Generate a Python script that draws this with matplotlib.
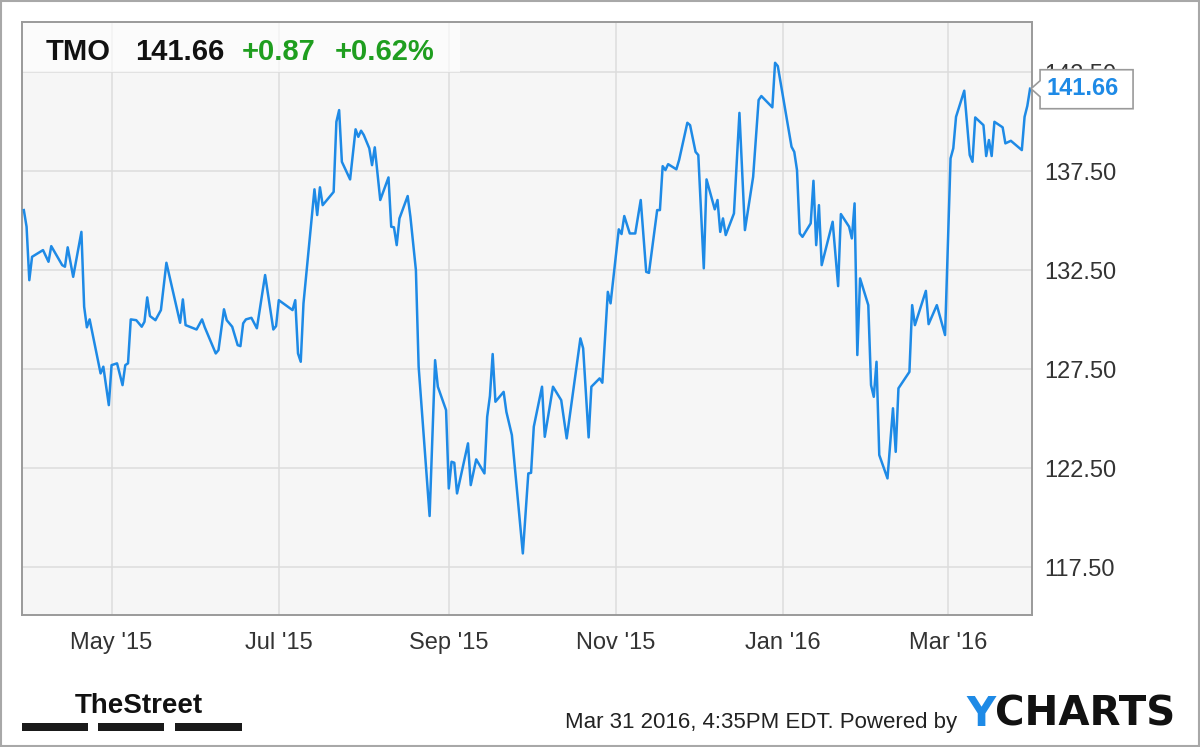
import matplotlib
matplotlib.use("Agg")
import matplotlib.pyplot as plt
import matplotlib.dates as mdates
from matplotlib.patches import Rectangle, Polygon
import pandas as pd

# ---------------- data ----------------
ticker = "TMO"
last_price = "141.66"
change_abs = "+0.87"
change_pct = "+0.62%"

dates = [
    "2015-03-30", "2015-03-31", "2015-04-01", "2015-04-02", "2015-04-06", "2015-04-08", "2015-04-09",
    "2015-04-13", "2015-04-14", "2015-04-15", "2015-04-17", "2015-04-20", "2015-04-21", "2015-04-22",
    "2015-04-23", "2015-04-27", "2015-04-28", "2015-04-30", "2015-05-01", "2015-05-03", "2015-05-05",
    "2015-05-06", "2015-05-07", "2015-05-08", "2015-05-10", "2015-05-12", "2015-05-13", "2015-05-14",
    "2015-05-15", "2015-05-17", "2015-05-19", "2015-05-21", "2015-05-26", "2015-05-27", "2015-05-28",
    "2015-06-01", "2015-06-03", "2015-06-04", "2015-06-08", "2015-06-09", "2015-06-11", "2015-06-12",
    "2015-06-14", "2015-06-16", "2015-06-17", "2015-06-18", "2015-06-19", "2015-06-21", "2015-06-23",
    "2015-06-26", "2015-06-29", "2015-06-30", "2015-07-01", "2015-07-06", "2015-07-07", "2015-07-08",
    "2015-07-09", "2015-07-10", "2015-07-14", "2015-07-15", "2015-07-16", "2015-07-17", "2015-07-21",
    "2015-07-22", "2015-07-23", "2015-07-24", "2015-07-27", "2015-07-29", "2015-07-30", "2015-07-31",
    "2015-08-01", "2015-08-03", "2015-08-04", "2015-08-05", "2015-08-07", "2015-08-10", "2015-08-11",
    "2015-08-12", "2015-08-13", "2015-08-14", "2015-08-17", "2015-08-18", "2015-08-20", "2015-08-21",
    "2015-08-25", "2015-08-27", "2015-08-28", "2015-08-31", "2015-09-01", "2015-09-02", "2015-09-03",
    "2015-09-04", "2015-09-08", "2015-09-09", "2015-09-11", "2015-09-14", "2015-09-15", "2015-09-16",
    "2015-09-17", "2015-09-18", "2015-09-21", "2015-09-22", "2015-09-24", "2015-09-28", "2015-09-30",
    "2015-10-01", "2015-10-02", "2015-10-05", "2015-10-06", "2015-10-09", "2015-10-12", "2015-10-14",
    "2015-10-19", "2015-10-20", "2015-10-22", "2015-10-23", "2015-10-26", "2015-10-27", "2015-10-29",
    "2015-10-30", "2015-11-02", "2015-11-03", "2015-11-04", "2015-11-06", "2015-11-08", "2015-11-10",
    "2015-11-12", "2015-11-13", "2015-11-16", "2015-11-17", "2015-11-18", "2015-11-19", "2015-11-20",
    "2015-11-23", "2015-11-24", "2015-11-27", "2015-11-28", "2015-11-30", "2015-12-01", "2015-12-03",
    "2015-12-04", "2015-12-07", "2015-12-08", "2015-12-09", "2015-12-10", "2015-12-11", "2015-12-14",
    "2015-12-16", "2015-12-18", "2015-12-21", "2015-12-23", "2015-12-24", "2015-12-28", "2015-12-29",
    "2015-12-30", "2016-01-04", "2016-01-05", "2016-01-06", "2016-01-07", "2016-01-08", "2016-01-11",
    "2016-01-12", "2016-01-13", "2016-01-14", "2016-01-15", "2016-01-19", "2016-01-21", "2016-01-22",
    "2016-01-25", "2016-01-26", "2016-01-27", "2016-01-28", "2016-01-29", "2016-02-01", "2016-02-02",
    "2016-02-03", "2016-02-04", "2016-02-05", "2016-02-08", "2016-02-10", "2016-02-11", "2016-02-12",
    "2016-02-16", "2016-02-17", "2016-02-18", "2016-02-22", "2016-02-23", "2016-02-26", "2016-02-29",
    "2016-03-02", "2016-03-03", "2016-03-04", "2016-03-07", "2016-03-09", "2016-03-10", "2016-03-11",
    "2016-03-14", "2016-03-15", "2016-03-16", "2016-03-17", "2016-03-18", "2016-03-21", "2016-03-22",
    "2016-03-24", "2016-03-28", "2016-03-29", "2016-03-30", "2016-03-31",
]

prices = [
    135.53, 134.69, 131.99, 133.17, 133.51, 132.92, 133.71,
    132.75, 132.67, 133.65, 132.16, 134.43, 130.65, 129.61,
    130.01, 127.28, 127.62, 125.68, 127.70, 127.79, 126.69,
    127.70, 127.79, 130.01, 129.97, 129.64, 129.89, 131.12,
    130.18, 129.97, 130.48, 132.87, 129.84, 131.02, 129.72,
    129.50, 130.01, 129.61, 128.29, 128.46, 130.52, 129.97,
    129.64, 128.71, 128.66, 129.81, 130.01, 130.09, 129.56,
    132.25, 129.50, 129.67, 130.98, 130.48, 130.98, 128.29,
    127.87, 130.82, 136.58, 135.28, 136.68, 135.78, 136.45,
    139.99, 140.58, 137.97, 137.08, 139.61, 139.23, 139.54,
    139.32, 138.65, 137.80, 138.70, 136.04, 137.18, 134.69,
    134.66, 133.76, 135.11, 136.24, 135.19, 132.50, 127.62,
    120.08, 127.95, 126.61, 125.43, 121.47, 122.82, 122.77,
    121.22, 123.75, 121.64, 122.94, 122.23, 125.09, 126.14,
    128.26, 125.85, 126.35, 125.34, 124.17, 118.19, 122.23,
    122.26, 124.59, 126.61, 124.08, 126.61, 125.93, 124.00,
    129.05, 128.55, 124.05, 126.61, 127.03, 126.81, 131.40,
    130.82, 134.56, 134.32, 135.23, 134.35, 134.35, 136.04,
    132.41, 132.36, 135.53, 135.53, 137.75, 137.55, 137.85,
    137.59, 138.06, 139.94, 139.82, 138.47, 138.31, 132.59,
    137.08, 135.57, 136.04, 134.43, 135.11, 134.27, 135.36,
    140.44, 134.52, 137.21, 141.09, 141.29, 140.72, 142.97,
    142.80, 138.73, 138.47, 137.55, 134.35, 134.18, 134.86,
    137.01, 133.76, 135.78, 132.75, 134.94, 131.69, 135.33,
    134.69, 134.10, 135.87, 128.21, 132.08, 130.73, 126.69,
    126.10, 127.87, 123.16, 121.98, 125.52, 123.32, 126.53,
    127.36, 130.73, 129.72, 131.45, 129.77, 130.73, 129.22,
    138.14, 138.65, 140.24, 141.56, 138.31, 137.97, 140.21,
    139.82, 138.26, 139.07, 138.26, 139.99, 139.71, 138.90,
    139.03, 138.56, 140.24, 140.79, 141.66,
]

y_ticks = [117.5, 122.5, 127.5, 132.5, 137.5, 142.5]
x_tick_dates = ["2015-05-01", "2015-07-01", "2015-09-01", "2015-11-01", "2016-01-01", "2016-03-01"]
x_tick_labels = ["May '15", "Jul '15", "Sep '15", "Nov '15", "Jan '16", "Mar '16"]
footer_text = "Mar 31 2016, 4:35PM EDT. Powered by"

# ---------------- figure ----------------
W, H = 1200, 747
plt.rcParams['font.family'] = ['Liberation Sans', 'DejaVu Sans']
fig = plt.figure(figsize=(W / 100, H / 100), dpi=100)
fig.patch.set_facecolor('white')

def fx(px):
    return px / W

def fy(py):
    return 1 - py / H

ax = fig.add_axes([fx(22), fy(615), fx(1032) - fx(22), fy(22) - fy(615)])
ax.set_facecolor('#f6f6f6')

x = pd.to_datetime(dates)
line_color = '#1e8ae6'
ax.plot(x, prices, color=line_color, lw=1.8, solid_joinstyle='round', zorder=3)

ax.set_xlim(pd.Timestamp('2015-03-29 08:00'), pd.Timestamp('2016-03-31 17:00'))
ax.set_ylim(115.08, 145.03)

ax.yaxis.tick_right()
ax.set_yticks(y_ticks)
ax.set_yticklabels([f"{v:.2f}" for v in y_ticks])
ax.set_xticks(pd.to_datetime(x_tick_dates))
ax.set_xticklabels(x_tick_labels)
ax.tick_params(axis='y', length=0, pad=9, labelsize=17, labelcolor='#333333')
ax.tick_params(axis='x', length=0, pad=12, labelsize=17, labelcolor='#333333')
ax.grid(True, color='#dcdcdc', lw=1.1, zorder=1)
ax.set_axisbelow(True)
for s in ax.spines.values():
    s.set_color('#9a9a9a')
    s.set_linewidth(1.4)

# title box
ax.add_patch(Rectangle((0, (615 - 72) / 593), (460 - 22) / 1010, 1 - (615 - 72) / 593,
                       transform=ax.transAxes, facecolor='white', alpha=0.65,
                       edgecolor='none', zorder=2))
ty = fy(60)
fig.text(fx(46), ty, ticker, fontsize=21, fontweight='bold', color='#111111', va='baseline')
fig.text(fx(135), ty, last_price, fontsize=21, fontweight='bold', color='#111111', va='baseline')
green = '#1f9e1f'
fig.text(fx(242), ty, change_abs, fontsize=21, fontweight='bold', color=green, va='baseline')
fig.text(fx(335), ty, change_pct, fontsize=21, fontweight='bold', color=green, va='baseline')

# last value callout
fig.canvas.draw()
tip = ax.transData.transform((mdates.date2num(x[-1]), prices[-1]))
tx, tyy = tip
pts = [(tx + 1, tyy), (tx + 10, tyy + 8), (tx + 10, tyy + 19), (tx + 103, tyy + 19),
       (tx + 103, tyy - 20), (tx + 10, tyy - 20), (tx + 10, tyy - 8)]
poly = Polygon(pts, closed=True, transform=None, facecolor='white', edgecolor='#9a9a9a',
               lw=1.2, zorder=5)
fig.patches.append(poly)
poly.set_figure(fig)
fig.text((tx + 16) / W, tyy / H, last_price, fontsize=17, fontweight='bold', color=line_color,
         va='center', ha='left', zorder=6)

# footer: TheStreet
fig.text(fx(75), fy(713), "TheStreet", fontsize=20, fontweight='bold', color='#111111',
         va='baseline')
for x0, x1 in [(22, 88), (98, 164), (175, 242)]:
    fig.patches.append(Rectangle((fx(x0), fy(731)), fx(x1) - fx(x0), fy(723) - fy(731),
                                 transform=fig.transFigure, facecolor='#1a1a1a',
                                 edgecolor='none', figure=fig))

fig.text(fx(565), fy(728), footer_text, fontsize=16, color='#222222', va='baseline')
ytxt = fig.text(fx(966), fy(726), "Y", fontsize=29, fontweight='bold', color='#1e8ae6',
                va='baseline', family='DejaVu Sans')
fig.canvas.draw()
bb = ytxt.get_window_extent()
fig.text(bb.x1 / W, fy(726), "CHARTS", fontsize=29, fontweight='bold', color='#111111',
         va='baseline', family='DejaVu Sans')

# outer border
fig.patches.append(Rectangle((0.6 / W, 0.6 / H), 1 - 1.8 / W, 1 - 1.8 / H,
                             transform=fig.transFigure, fill=False, edgecolor='#a8a8a8',
                             lw=1.5, figure=fig))

fig.savefig('out.png', dpi=100, facecolor='white')
